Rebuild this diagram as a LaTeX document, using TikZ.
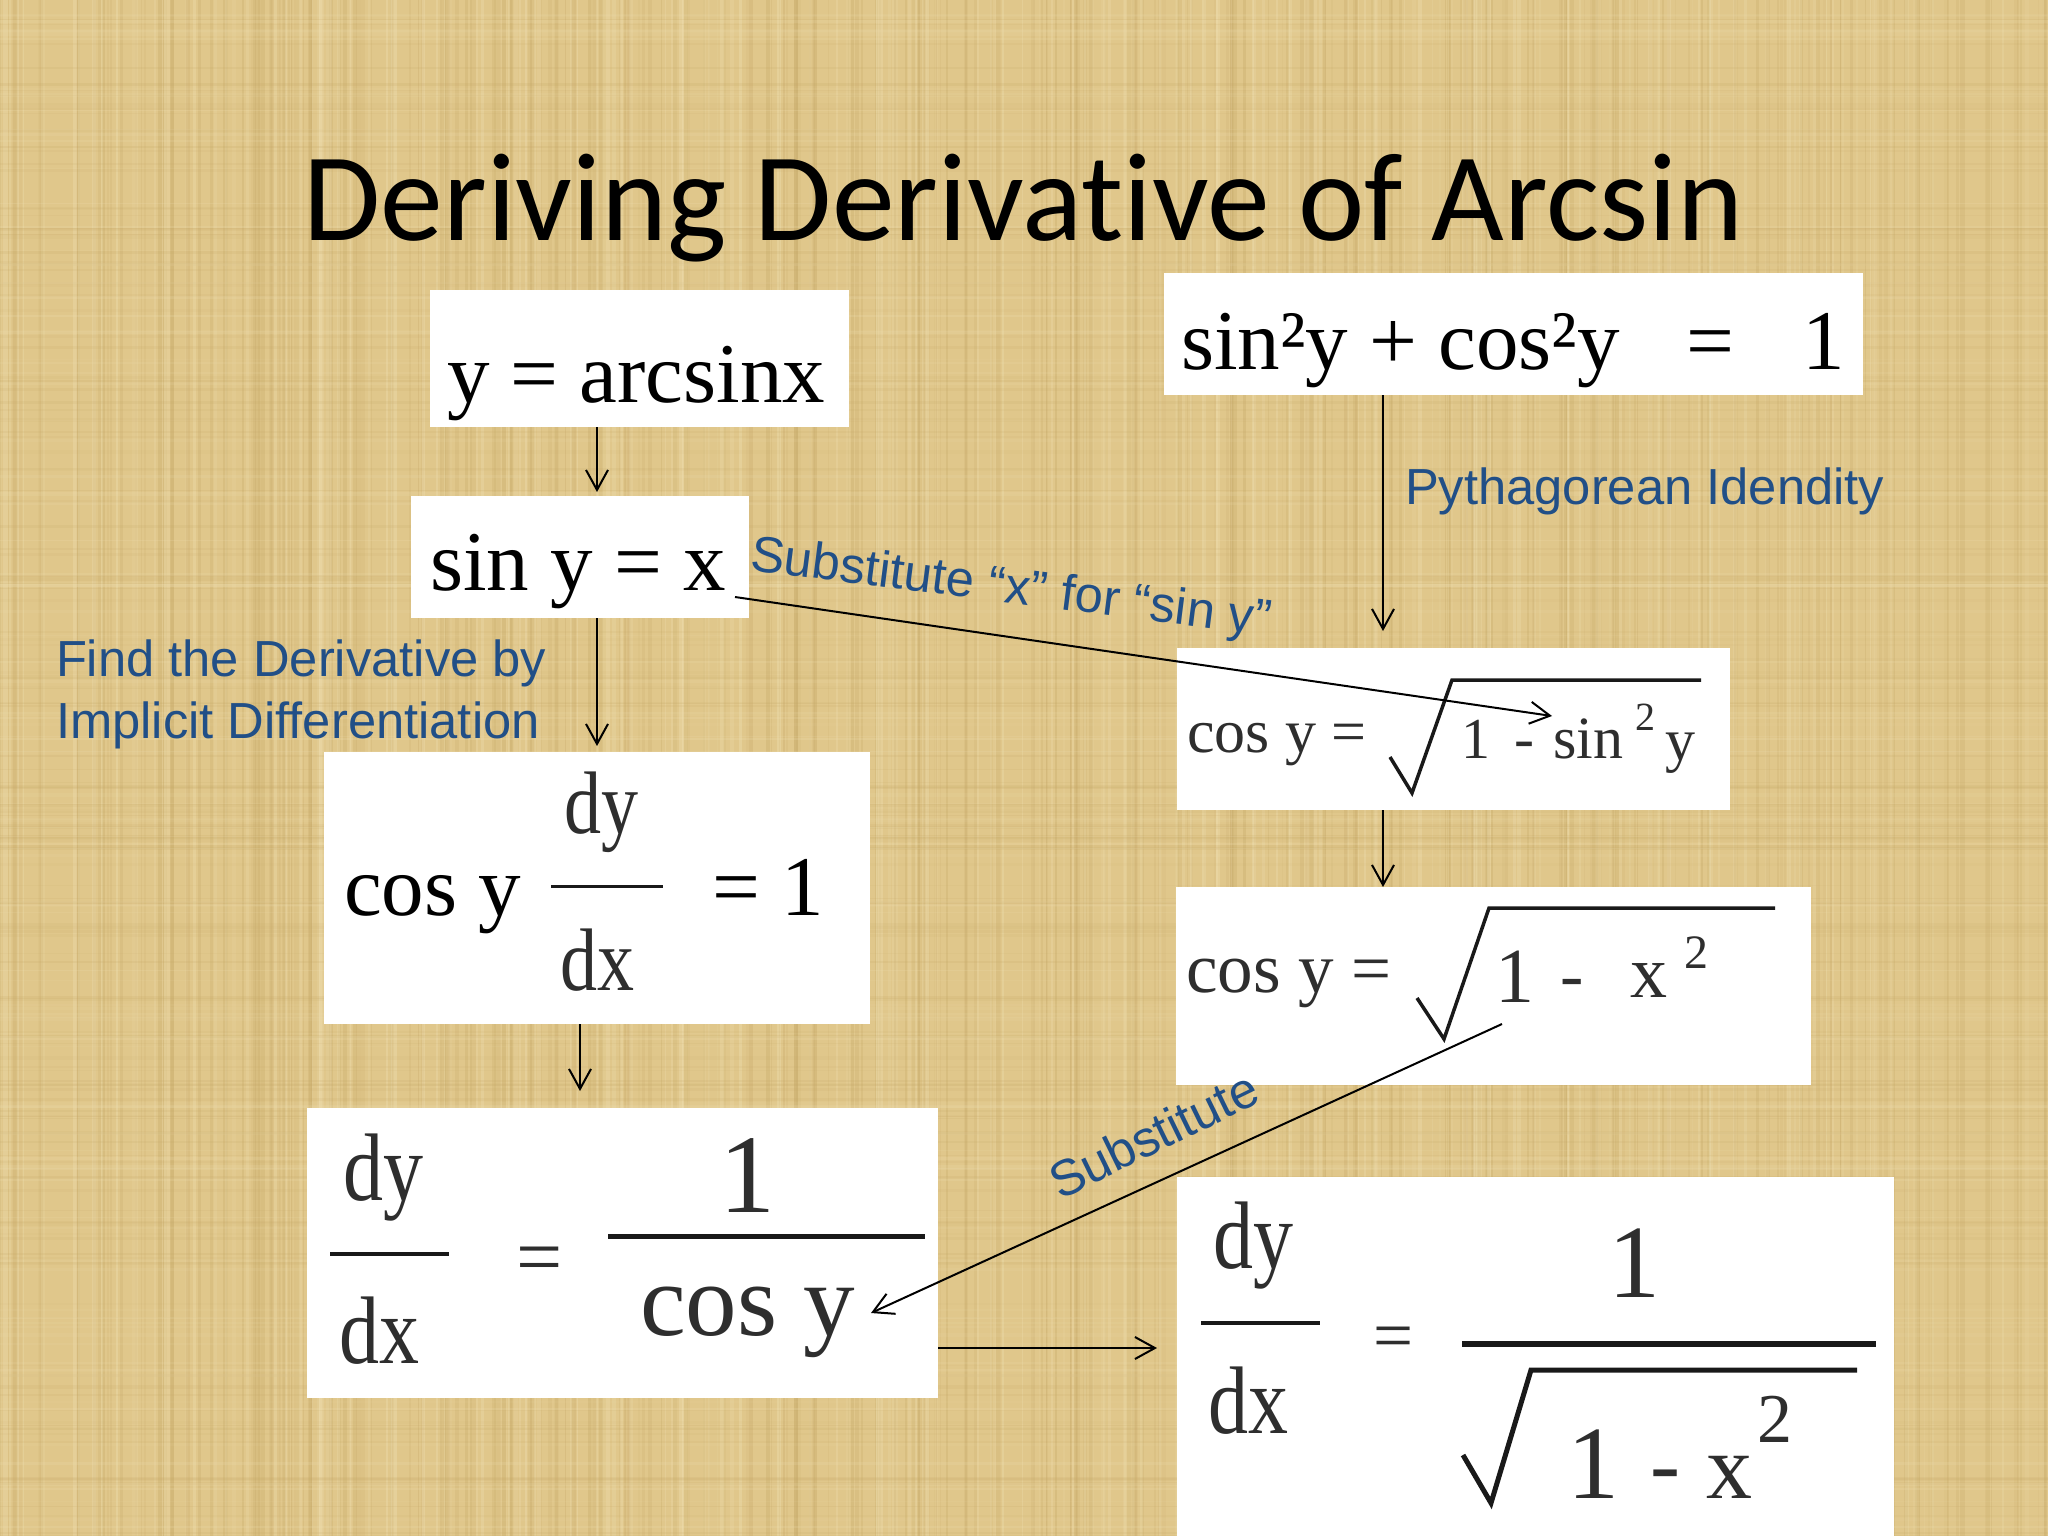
\documentclass[tikz,border=0pt]{standalone}
\usepackage{fontspec}
\usepackage{graphicx}
\setmainfont{Liberation Serif}
\newfontfamily\titlefont[Ligatures=NoCommon]{Carlito}
\newfontfamily\labelfont{Liberation Sans}
\usetikzlibrary{arrows.meta}
\definecolor{bgtan}{RGB}{224,199,139}
\definecolor{tandark}{RGB}{196,166,100}
\definecolor{tanlight}{RGB}{240,225,180}
\definecolor{lblue}{RGB}{33,79,135}
\newcommand\setfs[1]{\fontsize{#1}{#1}\selectfont}
\newcommand\pxt[1]{\scalebox{1}[1.2]{#1}}
\begin{document}
\begin{tikzpicture}[x=0.5pt,y=-0.5pt,
  box/.style={fill=white,draw=none,inner sep=0,outer sep=0,rectangle},
  eq/.style={inner sep=0,outer sep=0,anchor=base west,text=black},
  pix/.style={inner sep=0,outer sep=0,anchor=base west,text=black!82},
  pixc/.style={inner sep=0,outer sep=0,anchor=base,text=black!82},
  lbl/.style={inner sep=0,outer sep=0,anchor=base west,text=lblue,font=\labelfont\setfs{25.35pt}},
  arr/.style={draw=black,line width=1pt,-{Straight Barb[length=10pt,width=11pt]}},
  bar/.style={draw=black!90,line cap=butt}]
\useasboundingbox (0,0) rectangle (2048,1536);
\fill[bgtan] (0,0) rectangle (2048,1536);
% woven texture
\pgfmathsetseed{7}
\foreach \i in {1,...,300}{
  \pgfmathsetmacro\xx{rnd*2048}
  \pgfmathsetmacro\ww{0.4+rnd*1.8}
  \pgfmathsetmacro\oo{0.08+rnd*0.22}
  \draw[tandark,line width=\ww pt,opacity=\oo] (\xx,0) -- (\xx,1536);
}
\foreach \i in {1,...,200}{
  \pgfmathsetmacro\xx{rnd*2048}
  \pgfmathsetmacro\ww{0.4+rnd*1.6}
  \pgfmathsetmacro\oo{0.1+rnd*0.25}
  \draw[tanlight,line width=\ww pt,opacity=\oo] (\xx,0) -- (\xx,1536);
}
\foreach \i in {1,...,160}{
  \pgfmathsetmacro\yy{rnd*1536}
  \pgfmathsetmacro\ww{0.4+rnd*1.4}
  \pgfmathsetmacro\oo{0.05+rnd*0.12}
  \draw[tandark,line width=\ww pt,opacity=\oo] (0,\yy) -- (2048,\yy);
}
\foreach \i in {1,...,110}{
  \pgfmathsetmacro\yy{rnd*1536}
  \pgfmathsetmacro\ww{0.4+rnd*1.4}
  \pgfmathsetmacro\oo{0.06+rnd*0.14}
  \draw[tanlight,line width=\ww pt,opacity=\oo] (0,\yy) -- (2048,\yy);
}

% title
\node[anchor=base west,inner sep=0,font=\titlefont\setfs{62.8pt}] (title) at (303,240) {Deriving Derivative of Arcsin};

% boxes
\node[box,minimum width=209.5pt,minimum height=68.5pt] (b1) at (639.5,358.5) {};
\node[box,minimum width=169pt,minimum height=61pt] (b2) at (580,557) {};
\node[box,minimum width=349.5pt,minimum height=61pt] (b3) at (1513.5,334) {};
\node[box,minimum width=273pt,minimum height=136pt] (b4) at (597,888) {};
\node[box,minimum width=315.5pt,minimum height=145pt] (b5) at (622.5,1253) {};
\node[box,minimum width=276.5pt,minimum height=81pt] (b6) at (1453.5,729) {};
\node[box,minimum width=317.5pt,minimum height=99pt] (b7) at (1493.5,986) {};
\node[box,minimum width=358.5pt,minimum height=181.5pt] (b8) at (1535.5,1358.5) {};

% box 1-3
\node[eq,font=\setfs{42.5pt}] (t1) at (447,402) {y = arcsinx};
\node[eq,font=\setfs{42.5pt}] (t2) at (430,590) {sin y = x};
\node[eq,font=\setfs{42.5pt}] (t3a) at (1181,369) {sin²y + cos²y};
\node[eq,font=\setfs{42.5pt}] (t3b) at (1686,369) {=};
\node[eq,font=\setfs{42.5pt}] (t3c) at (1802,369) {1};

% box 4
\node[eq,font=\setfs{42.5pt}] (t4a) at (344,915) {cos y};
\node[pix,font=\setfs{37pt}] (t4n) at (564,833) {\pxt{dy}};
\draw[bar,line width=1.5pt] (551,886) -- (663,886);
\node[pix,font=\setfs{37pt}] (t4d) at (560,990) {\pxt{dx}};
\node[eq,font=\setfs{42.5pt}] (t4b) at (712,915) {= 1};

% box 5
\node[pix,font=\setfs{40pt}] (t5n) at (343,1200) {\pxt{dy}};
\draw[bar,line width=2pt] (330,1254) -- (449,1254);
\node[pix,font=\setfs{40pt}] (t5d) at (339,1363) {\pxt{dx}};
\node[pixc,font=\setfs{41pt}] (t5e) at (540,1284) {=};
\node[pixc,font=\setfs{56pt}] (t5o) at (747,1212) {1};
\draw[bar,line width=2.5pt] (608,1236) -- (925,1236);
\node[pix,font=\setfs{51.5pt}] (t5c) at (640,1335) {cos y};

% box 6
\node[pix,font=\setfs{31pt}] (t6a) at (1187,752) {cos y =};
\draw[bar,line width=1.75pt,line join=miter] (1390,757) -- (1412,793) -- (1452,680) -- (1701,680);
\node[pixc,font=\setfs{29pt}] (t6o) at (1476,758) {1};
\node[pixc,font=\setfs{30pt}] (t6m) at (1524,758) {-};
\node[pix,font=\setfs{30pt}] (t6s) at (1553,758) {sin};
\node[pixc,font=\setfs{20pt}] (t6t) at (1645,730) {2};
\node[pix,font=\setfs{30pt}] (t6y) at (1665,760) {y};

% box 7
\node[pix,font=\setfs{35.5pt}] (t7a) at (1186,992) {cos y =};
\draw[bar,line width=1.75pt,line join=miter] (1417,998) -- (1444,1039) -- (1489,908) -- (1775,908);
\node[pixc,font=\setfs{39pt}] (t7o) at (1515,1002) {1};
\node[pixc,font=\setfs{35pt}] (t7m) at (1572,998) {-};
\node[pix,font=\setfs{37pt}] (t7x) at (1630,997) {x};
\node[pixc,font=\setfs{24pt}] (t7t) at (1696,968) {2};

% box 8
\node[pix,font=\setfs{40pt}] (t8n) at (1213,1268) {\pxt{dy}};
\draw[bar,line width=2pt] (1201,1323) -- (1320,1323);
\node[pix,font=\setfs{40pt}] (t8d) at (1208,1433) {\pxt{dx}};
\node[pixc,font=\setfs{35.5pt}] (t8e) at (1393,1359) {=};
\node[pixc,font=\setfs{52pt}] (t8o) at (1634,1297) {1};
\draw[bar,line width=3pt] (1462,1344) -- (1876,1344);
\draw[bar,line width=2.5pt,line join=miter] (1463,1455) -- (1491,1503) -- (1531,1370) -- (1857,1370);
\node[pixc,font=\setfs{52pt}] (t8r) at (1593,1498) {1};
\node[pixc,font=\setfs{45pt}] (t8m) at (1665,1494) {-};
\node[pix,font=\setfs{46pt}] (t8x) at (1706,1498) {x};
\node[pixc,font=\setfs{35pt}] (t8t) at (1775,1442) {2};

% labels
\node[lbl] (lpyth) at (1405,504) {Pythagorean Idendity};
\node[lbl] (limp1) at (56,676) {Find the Derivative by};
\node[lbl] (limp2) at (56,738) {Implicit Differentiation};
\node[lbl,rotate=-7.2] (lsub1) at (749,570) {Substitute “x” for “sin y”};
\node[lbl,rotate=26] (lsub2) at (1060,1200) {Substitute};

% connectors
\coordinate (colA) at (597,0);
\coordinate (colB) at (580,0);
\coordinate (colC) at (1383,0);
\coordinate (rowD) at (0,1348);
\draw[arr,shorten >=2pt] (b1.south -| colA) -- (b2.north -| colA);
\draw[arr,shorten >=3pt] (b2.south -| colA) -- (b4.north -| colA);
\draw[arr,shorten >=8.5pt] (b4.south -| colB) -- (b5.north -| colB);
\draw[arr,shorten >=8.5pt] (b3.south -| colC) -- (b6.north -| colC);
\draw[arr] (b6.south -| colC) -- (b7.north -| colC);
\draw[arr,shorten >=10pt] (b5.east |- rowD) -- (b8.west |- rowD);
\coordinate (s1a) at (735,597);
\coordinate (s1b) at (1552,716);
\draw[arr] (s1a) -- (s1b);
\coordinate (s2a) at (1502,1024);
\coordinate (s2b) at (871,1313);
\draw[arr] (s2a) -- (s2b);
\end{tikzpicture}
\end{document}
